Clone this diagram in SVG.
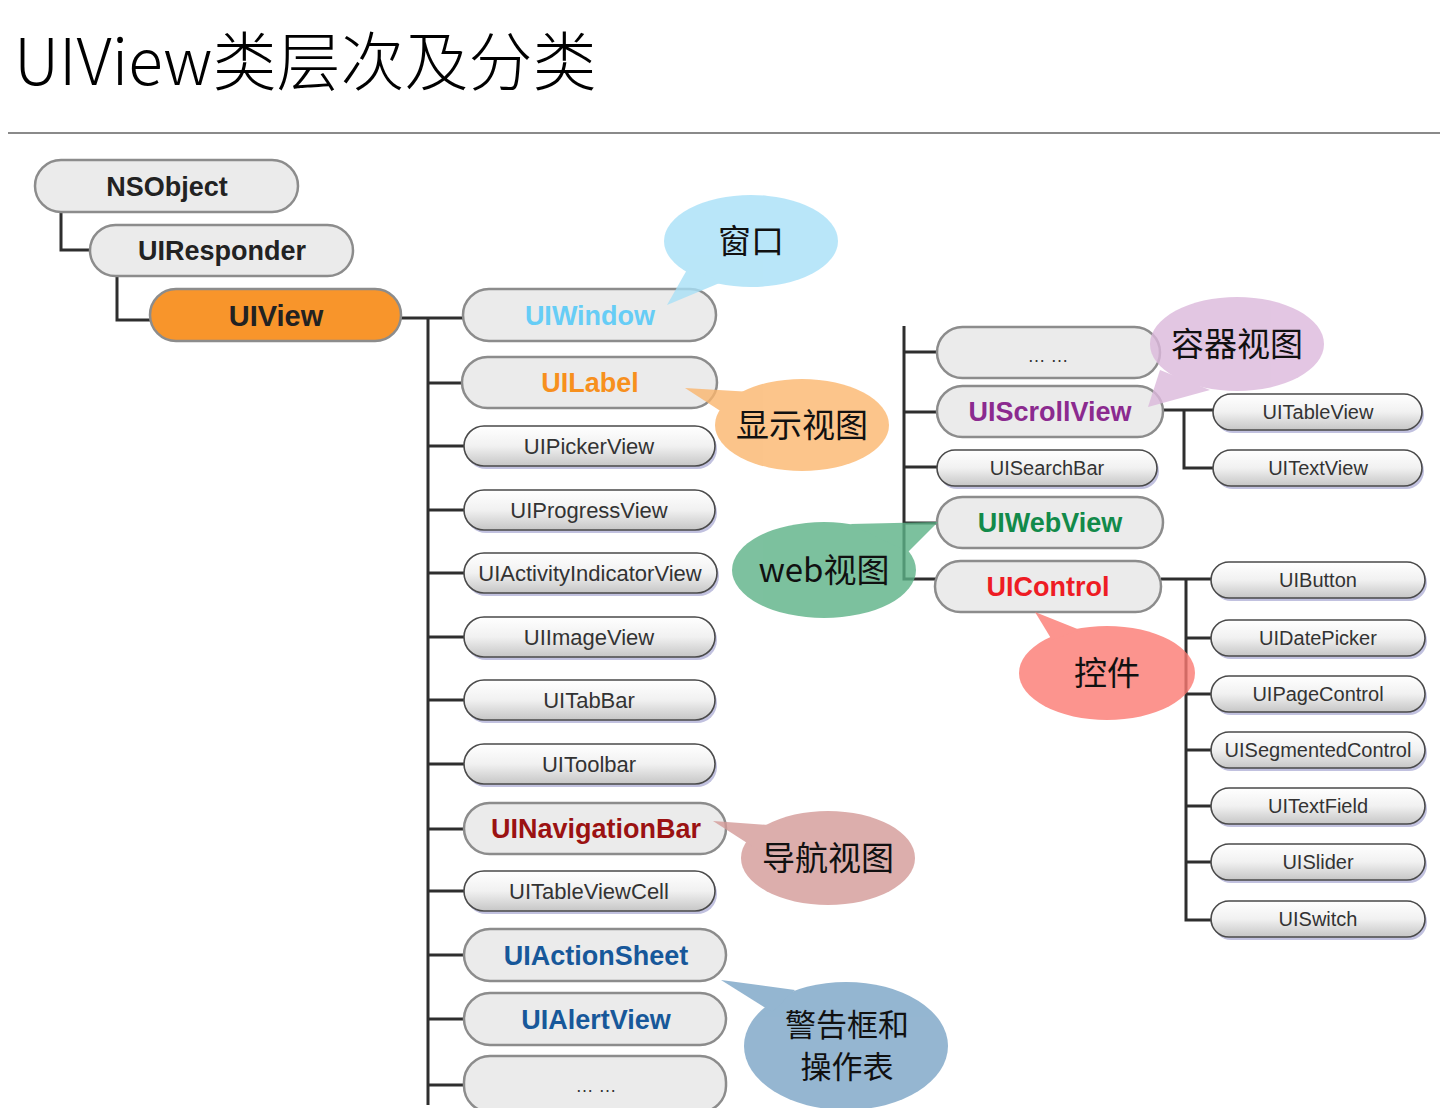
<svg xmlns="http://www.w3.org/2000/svg" width="1440" height="1108" viewBox="0 0 1440 1108">
<defs>
<linearGradient id="sg" x1="0" y1="0" x2="0" y2="1">
<stop offset="0" stop-color="#ffffff"/>
<stop offset="0.5" stop-color="#f1f1f1"/>
<stop offset="1" stop-color="#c6c6c6"/>
</linearGradient>
<style>
.big{fill:#ebebeb;stroke:#8c8c8c;stroke-width:2.5}
.sm{fill:url(#sg);stroke:#4a4a4a;stroke-width:1.6}
.sh{fill:#8e8ec4;opacity:0.55}
.bt{font-family:"Liberation Sans",Arial,Helvetica,sans-serif;font-weight:bold;font-size:27px;text-anchor:middle}
.st{font-family:"Liberation Sans",Arial,Helvetica,sans-serif;font-size:22px;fill:#333;text-anchor:middle}
.st2{font-family:"Liberation Sans",Arial,Helvetica,sans-serif;font-size:20px;fill:#333;text-anchor:middle}
.dt{font-family:"Liberation Sans",Arial,sans-serif;font-size:18px;fill:#333;text-anchor:middle}
.cn{fill:none;stroke:#2e2e2e;stroke-width:3}
.ct{font-family:"Noto Sans CJK SC","Noto Sans",sans-serif;font-size:33px;fill:#111;text-anchor:middle}
</style>
</defs>
<rect width="1440" height="1108" fill="#ffffff"/>
<text x="14" y="85" font-family="Noto Sans CJK SC,sans-serif" font-weight="300" font-size="64" fill="#000">UIView类层次及分类</text>
<line x1="8" y1="133" x2="1440" y2="133" stroke="#8a8a8a" stroke-width="2"/>

<g id="connectors">
<path class="cn" d="M61 212 V250 H92"/>
<path class="cn" d="M117 276 V320 H152"/>
<path class="cn" d="M401 318 H465"/>
<path class="cn" d="M428 318 V1105"/>
<path class="cn" d="M428 383 H464 M428 446 H466 M428 510 H466 M428 573 H466 M428 637 H466 M428 700 H466 M428 764 H466 M428 829 H466 M428 891 H466 M428 955 H466 M428 1019 H466 M428 1085 H466"/>
<path class="cn" d="M904 326 V579 H937"/>
<path class="cn" d="M904 352 H939 M904 412 H939 M904 467 H939 M904 523 H939"/>
<path class="cn" d="M1163 410 H1215 M1184 410 V468 H1215"/>
<path class="cn" d="M1161 579 H1213 M1186 579 V920 H1213"/>
<path class="cn" d="M1186 638 H1213 M1186 694 H1213 M1186 750 H1213 M1186 806 H1213 M1186 862 H1213"/>
</g>

<g id="n-nsobject"><rect class="big" x="35" y="160" width="263" height="52" rx="26"/><text class="bt" x="167" y="196" fill="#222">NSObject</text></g>
<g id="n-uiresponder"><rect class="big" x="90" y="225" width="263" height="51" rx="25.5"/><text class="bt" x="222" y="260" fill="#222">UIResponder</text></g>
<g id="n-uiview"><rect x="150" y="289" width="251" height="52" rx="26" fill="#f8952b" stroke="#8c8c8c" stroke-width="2.5"/><text class="bt" x="276" y="326" fill="#222" style="font-size:29px">UIView</text></g>

<g id="n-uiwindow"><rect class="big" x="463" y="289" width="253" height="52" rx="26"/><text class="bt" x="590" y="325" fill="#66cdf6">UIWindow</text></g>
<g id="n-uilabel"><rect class="big" x="462" y="357" width="255" height="51" rx="25.5"/><text class="bt" x="590" y="392" fill="#f7901e">UILabel</text></g>
<g id="n-uipickerview"><rect class="sh" x="466" y="429" width="251" height="40" rx="20"/><rect class="sm" x="464" y="426" width="251" height="40" rx="20"/><text class="st" x="589" y="454">UIPickerView</text></g>
<g id="n-uiprogressview"><rect class="sh" x="466" y="493" width="251" height="40" rx="20"/><rect class="sm" x="464" y="490" width="251" height="40" rx="20"/><text class="st" x="589" y="518">UIProgressView</text></g>
<g id="n-uiactivity"><rect class="sh" x="466" y="556" width="253" height="40" rx="20"/><rect class="sm" x="464" y="553" width="253" height="40" rx="20"/><text class="st" x="590" y="581">UIActivityIndicatorView</text></g>
<g id="n-uiimageview"><rect class="sh" x="466" y="620" width="251" height="40" rx="20"/><rect class="sm" x="464" y="617" width="251" height="40" rx="20"/><text class="st" x="589" y="645">UIImageView</text></g>
<g id="n-uitabbar"><rect class="sh" x="466" y="683" width="251" height="40" rx="20"/><rect class="sm" x="464" y="680" width="251" height="40" rx="20"/><text class="st" x="589" y="708">UITabBar</text></g>
<g id="n-uitoolbar"><rect class="sh" x="466" y="747" width="251" height="40" rx="20"/><rect class="sm" x="464" y="744" width="251" height="40" rx="20"/><text class="st" x="589" y="772">UIToolbar</text></g>
<g id="n-uinavigationbar"><rect class="big" x="464" y="803" width="262" height="51" rx="25.5"/><text class="bt" x="596" y="838" fill="#9b1212">UINavigationBar</text></g>
<g id="n-uitableviewcell"><rect class="sh" x="466" y="874" width="251" height="40" rx="20"/><rect class="sm" x="464" y="871" width="251" height="40" rx="20"/><text class="st" x="589" y="899">UITableViewCell</text></g>
<g id="n-uiactionsheet"><rect class="big" x="464" y="929" width="262" height="52" rx="26"/><text class="bt" x="596" y="965" fill="#17589a">UIActionSheet</text></g>
<g id="n-uialertview"><rect class="big" x="464" y="993" width="262" height="52" rx="26"/><text class="bt" x="596" y="1029" fill="#17589a">UIAlertView</text></g>
<g id="n-more1"><rect class="big" x="464" y="1056" width="262" height="56" rx="26"/><text class="dt" x="596" y="1092">… …</text></g>

<g id="n-more2"><rect class="big" x="937" y="327" width="223" height="51" rx="25.5"/><text class="dt" x="1048" y="362">… …</text></g>
<g id="n-uiscrollview"><rect class="big" x="937" y="386" width="226" height="51" rx="25.5"/><text class="bt" x="1050" y="421" fill="#8b2a8f">UIScrollView</text></g>
<g id="n-uisearchbar"><rect class="sh" x="939" y="453" width="220" height="36" rx="18"/><rect class="sm" x="937" y="450" width="220" height="36" rx="18"/><text class="st2" x="1047" y="475">UISearchBar</text></g>
<g id="n-uiwebview"><rect class="big" x="937" y="497" width="226" height="51" rx="25.5"/><text class="bt" x="1050" y="532" fill="#128a4a">UIWebView</text></g>
<g id="n-uicontrol"><rect class="big" x="935" y="561" width="226" height="51" rx="25.5"/><text class="bt" x="1048" y="596" fill="#ee1c24">UIControl</text></g>

<g id="n-uitableview"><rect class="sh" x="1215" y="397" width="209" height="36" rx="18"/><rect class="sm" x="1213" y="394" width="209" height="36" rx="18"/><text class="st2" x="1318" y="419">UITableView</text></g>
<g id="n-uitextview"><rect class="sh" x="1215" y="453" width="209" height="36" rx="18"/><rect class="sm" x="1213" y="450" width="209" height="36" rx="18"/><text class="st2" x="1318" y="475">UITextView</text></g>

<g id="n-uibutton"><rect class="sh" x="1213" y="565" width="214" height="36" rx="18"/><rect class="sm" x="1211" y="562" width="214" height="36" rx="18"/><text class="st2" x="1318" y="587">UIButton</text></g>
<g id="n-uidatepicker"><rect class="sh" x="1213" y="623" width="214" height="36" rx="18"/><rect class="sm" x="1211" y="620" width="214" height="36" rx="18"/><text class="st2" x="1318" y="645">UIDatePicker</text></g>
<g id="n-uipagecontrol"><rect class="sh" x="1213" y="679" width="214" height="36" rx="18"/><rect class="sm" x="1211" y="676" width="214" height="36" rx="18"/><text class="st2" x="1318" y="701">UIPageControl</text></g>
<g id="n-uisegmented"><rect class="sh" x="1213" y="735" width="214" height="36" rx="18"/><rect class="sm" x="1211" y="732" width="214" height="36" rx="18"/><text class="st2" x="1318" y="757">UISegmentedControl</text></g>
<g id="n-uitextfield"><rect class="sh" x="1213" y="791" width="214" height="36" rx="18"/><rect class="sm" x="1211" y="788" width="214" height="36" rx="18"/><text class="st2" x="1318" y="813">UITextField</text></g>
<g id="n-uislider"><rect class="sh" x="1213" y="847" width="214" height="36" rx="18"/><rect class="sm" x="1211" y="844" width="214" height="36" rx="18"/><text class="st2" x="1318" y="869">UISlider</text></g>
<g id="n-uiswitch"><rect class="sh" x="1213" y="904" width="214" height="36" rx="18"/><rect class="sm" x="1211" y="901" width="214" height="36" rx="18"/><text class="st2" x="1318" y="926">UISwitch</text></g>

<g id="c-window"><g opacity="0.8" fill="#a8e0f7"><ellipse cx="751" cy="241" rx="87" ry="46"/><polygon points="688,268 722,282 667,305"/></g><text class="ct" x="751" y="253">窗口</text></g>
<g id="c-display"><g opacity="0.8" fill="#fbb66e"><ellipse cx="802" cy="425" rx="87" ry="46"/><polygon points="752,392 722,412 685,388"/></g><text class="ct" x="802" y="437">显示视图</text></g>
<g id="c-container"><g opacity="0.8" fill="#dcb8dc"><ellipse cx="1237" cy="344" rx="87" ry="47"/><polygon points="1160,370 1210,390 1148,407"/></g><text class="ct" x="1237" y="356">容器视图</text></g>
<g id="c-web"><g opacity="0.8" fill="#5cb287"><ellipse cx="824" cy="570" rx="92" ry="48"/><polygon points="850,524 938,522 908,552"/></g><text class="ct" x="824" y="582">web视图</text></g>
<g id="c-control"><g opacity="0.8" fill="#fc7a72"><ellipse cx="1107" cy="673" rx="88" ry="47"/><polygon points="1052,640 1080,630 1035,612"/></g><text class="ct" x="1107" y="685">控件</text></g>
<g id="c-nav"><g opacity="0.8" fill="#d49a98"><ellipse cx="828" cy="858" rx="87" ry="47"/><polygon points="782,826 758,850 713,821"/></g><text class="ct" x="828" y="870">导航视图</text></g>
<g id="c-alert"><g opacity="0.8" fill="#7aa4c6"><ellipse cx="846" cy="1046" rx="102" ry="64"/><polygon points="795,990 772,1012 721,980"/></g><text class="ct" style="font-size:31px"><tspan x="847" y="1036">警告框和</tspan><tspan x="847" y="1078">操作表</tspan></text></g>
</svg>
